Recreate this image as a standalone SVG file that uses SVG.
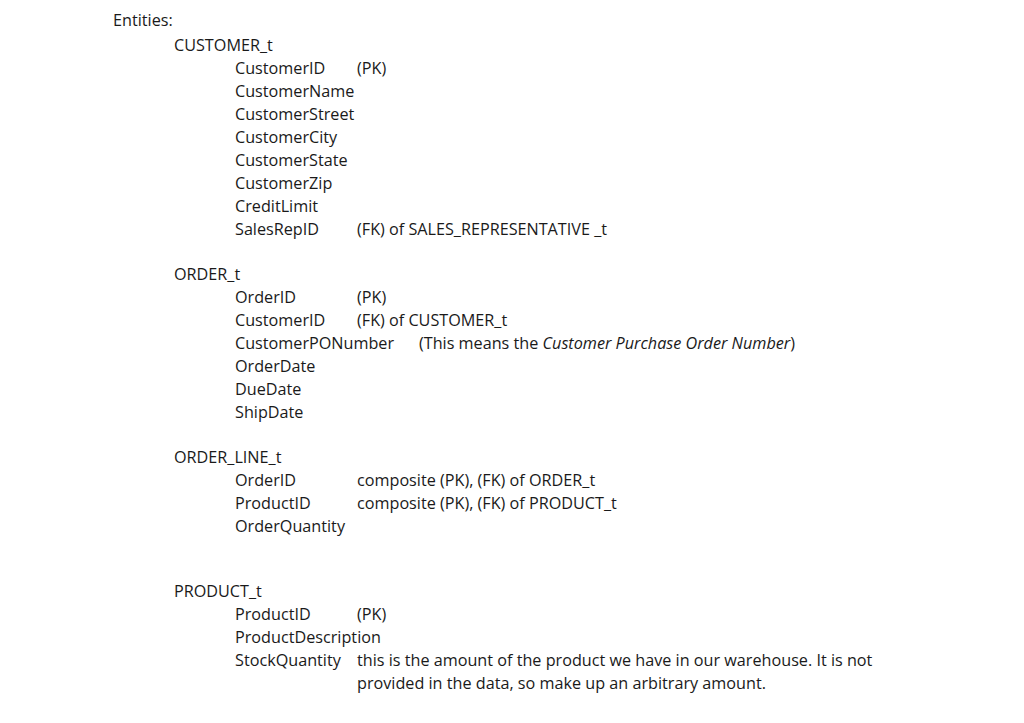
<svg xmlns="http://www.w3.org/2000/svg" width="1024" height="723" viewBox="0 0 1024 723">
<style>text{font-family:"Open Sans","Liberation Sans",sans-serif;font-size:16.2px;fill:#1a1a1a}</style>
<rect width="1024" height="723" fill="#fff"/>
<g transform="translate(0,4)">
<text x="113" y="22">Entities:</text>
<g id="customer">
<text x="174" y="47">CUSTOMER_t</text>
<text x="235" y="70">CustomerID</text><text x="357" y="70">(PK)</text>
<text x="235" y="93">CustomerName</text>
<text x="235" y="116">CustomerStreet</text>
<text x="235" y="139">CustomerCity</text>
<text x="235" y="162">CustomerState</text>
<text x="235" y="185">CustomerZip</text>
<text x="235" y="208">CreditLimit</text>
<text x="235" y="231">SalesRepID</text><text x="357" y="231">(FK) of SALES_REPRESENTATIVE _t</text>
</g>
<g id="order">
<text x="174" y="276">ORDER_t</text>
<text x="235" y="299">OrderID</text><text x="357" y="299">(PK)</text>
<text x="235" y="322">CustomerID</text><text x="357" y="322">(FK) of CUSTOMER_t</text>
<text x="235" y="345">CustomerPONumber</text><text x="419" y="345">(This means the <tspan font-style="italic">Customer Purchase Order Number</tspan>)</text>
<text x="235" y="368">OrderDate</text>
<text x="235" y="391">DueDate</text>
<text x="235" y="414">ShipDate</text>
</g>
<g id="orderline">
<text x="174" y="459">ORDER_LINE_t</text>
<text x="235" y="482">OrderID</text><text x="357" y="482">composite (PK), (FK) of ORDER_t</text>
<text x="235" y="505">ProductID</text><text x="357" y="505">composite (PK), (FK) of PRODUCT_t</text>
<text x="235" y="528">OrderQuantity</text>
</g>
<g id="product">
<text x="174" y="593">PRODUCT_t</text>
<text x="235" y="616">ProductID</text><text x="357" y="616">(PK)</text>
<text x="235" y="639">ProductDescription</text>
<text x="235" y="662">StockQuantity</text><text x="357" y="662">this is the amount of the product we have in our warehouse. It is not</text>
<text x="357" y="685">provided in the data, so make up an arbitrary amount.</text>
</g>
</g>
<g id="connectors"/>
</svg>
